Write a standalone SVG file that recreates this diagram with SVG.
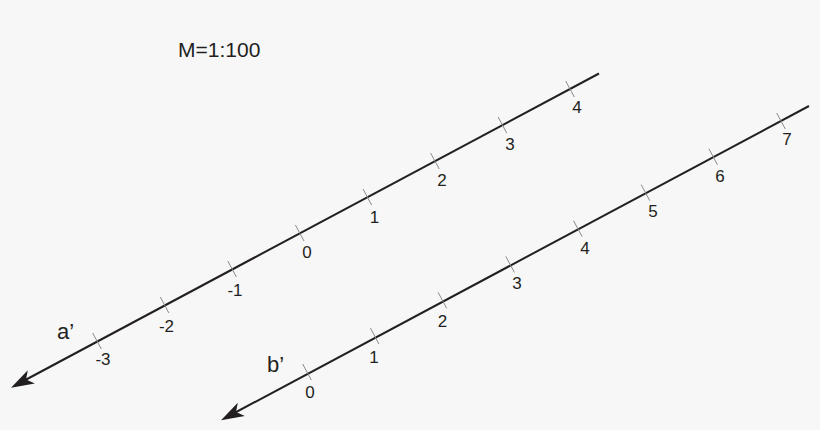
<svg xmlns="http://www.w3.org/2000/svg" width="820" height="430" viewBox="0 0 820 430">
<defs>
<style>
.axis{stroke:#231f20;stroke-width:2;fill:none}
.tick{stroke:#8a8a8a;stroke-width:1}
.lbl{font-family:"Liberation Sans",Arial,sans-serif;font-size:17px;fill:#231f20;text-anchor:middle}
.name{font-family:"Liberation Sans",Arial,sans-serif;font-size:21px;fill:#231f20}
</style>
<marker id="arr" markerUnits="userSpaceOnUse" markerWidth="30" markerHeight="20" viewBox="-12 -10 30 20" refX="0" refY="0" orient="auto">
<path d="M13,0 L-10,-7.5 L-4,0 L-10,7.5 Z" fill="#231f20"/>
</marker>
</defs>
<rect width="820" height="430" fill="#f7f7f7"/>
<text class="name" x="178" y="57">M=1:100</text>
<g id="connectors">
<path id="line-a" class="axis" d="M599,73.5 L22.5,381.5" marker-end="url(#arr)"/>
<path id="line-b" class="axis" d="M809,106 L232.5,414" marker-end="url(#arr)"/>
</g>
<g id="axis-a">
<text class="name" x="57" y="339" style="font-size:22px">a’</text>
<g class="tick">
<line x1="92.7" y1="333" x2="101.3" y2="349"/>
<line x1="160.3" y1="297" x2="168.9" y2="313"/>
<line x1="227.8" y1="261" x2="236.4" y2="277"/>
<line x1="295.4" y1="225" x2="304" y2="241"/>
<line x1="363" y1="189" x2="371.6" y2="205"/>
<line x1="430.6" y1="153" x2="439.2" y2="169"/>
<line x1="498.1" y1="117" x2="506.7" y2="133"/>
<line x1="565.7" y1="81" x2="574.3" y2="97"/>
</g>
<text class="lbl" x="103" y="365">-3</text>
<text class="lbl" x="166.5" y="332">-2</text>
<text class="lbl" x="235" y="296">-1</text>
<text class="lbl" x="307" y="258">0</text>
<text class="lbl" x="374.5" y="222.5">1</text>
<text class="lbl" x="442" y="186">2</text>
<text class="lbl" x="510" y="150">3</text>
<text class="lbl" x="577" y="113">4</text>
</g>
<g id="axis-b">
<text class="name" x="267" y="372" style="font-size:22px">b’</text>
<g class="tick">
<line x1="302.7" y1="364" x2="311.3" y2="380"/>
<line x1="370.4" y1="328.1" x2="379" y2="344.1"/>
<line x1="438.1" y1="292.3" x2="446.7" y2="308.3"/>
<line x1="505.8" y1="256.4" x2="514.4" y2="272.4"/>
<line x1="573.5" y1="220.6" x2="582.1" y2="236.6"/>
<line x1="641.2" y1="184.7" x2="649.8" y2="200.7"/>
<line x1="708.9" y1="148.8" x2="717.5" y2="164.8"/>
<line x1="776.7" y1="113" x2="785.3" y2="129"/>
</g>
<text class="lbl" x="310" y="398">0</text>
<text class="lbl" x="374" y="363">1</text>
<text class="lbl" x="442.5" y="327">2</text>
<text class="lbl" x="517" y="289">3</text>
<text class="lbl" x="585" y="254">4</text>
<text class="lbl" x="653" y="217">5</text>
<text class="lbl" x="720" y="182">6</text>
<text class="lbl" x="787" y="145">7</text>
</g>
</svg>
